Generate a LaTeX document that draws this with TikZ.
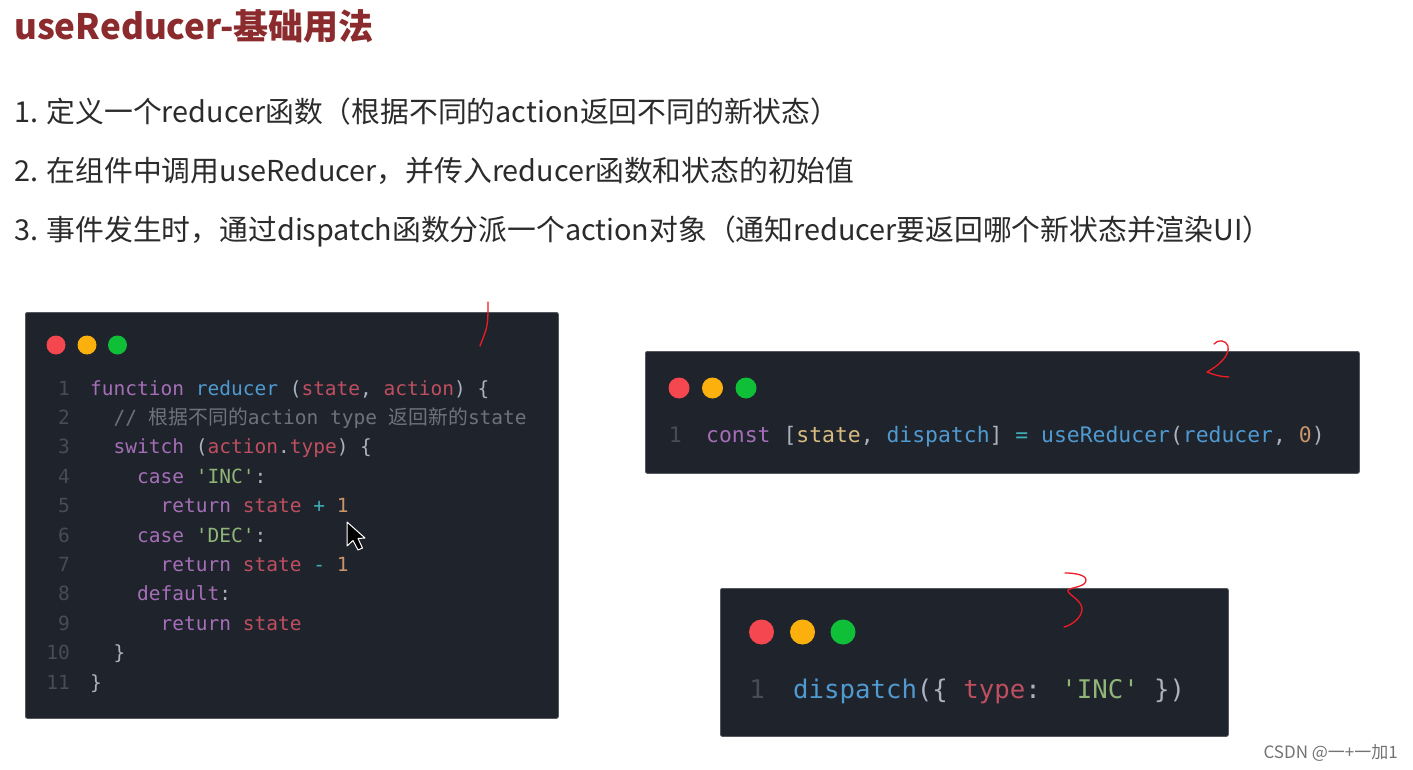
\documentclass[tikz,border=0pt]{standalone}
\usepackage{fontspec}
\setmainfont{Noto Sans CJK SC}
\newfontfamily\cjk{Noto Sans CJK SC}
\newfontfamily\codefont{DejaVu Sans Mono}
\usetikzlibrary{positioning}
\definecolor{panelbg}{HTML}{1F232B}
\definecolor{panelrim}{HTML}{55585E}
\definecolor{titlered}{HTML}{8C2B2E}
\definecolor{listtext}{HTML}{2B2B2B}
\definecolor{inkred}{HTML}{EE1C25}
\definecolor{lampred}{HTML}{F5474F}
\definecolor{lampamber}{HTML}{FBB00E}
\definecolor{lampgreen}{HTML}{0FBF38}
\definecolor{ckey}{HTML}{A56FB8}
\definecolor{cfun}{HTML}{4F9AD0}
\definecolor{cvar}{HTML}{BE4F60}
\definecolor{cstr}{HTML}{8FB578}
\definecolor{cnum}{HTML}{C8946A}
\definecolor{copr}{HTML}{3FAEB8}
\definecolor{cyel}{HTML}{D8BC80}
\definecolor{cplain}{HTML}{ABB2BF}
\definecolor{cnote}{HTML}{6E727A}
\definecolor{cline}{HTML}{484C54}
\newcommand{\kw}[1]{\textcolor{ckey}{#1}}
\newcommand{\fn}[1]{\textcolor{cfun}{#1}}
\newcommand{\vr}[1]{\textcolor{cvar}{#1}}
\newcommand{\sg}[1]{\textcolor{cstr}{#1}}
\newcommand{\nm}[1]{\textcolor{cnum}{#1}}
\newcommand{\op}[1]{\textcolor{copr}{#1}}
\newcommand{\yl}[1]{\textcolor{cyel}{#1}}
\tikzstyle{codepanel} = [draw=panelrim, fill=panelbg, rectangle, rounded corners=2pt, anchor=north west, inner sep=0pt, line width=0.8pt]
\tikzstyle{lamp} = [circle, inner sep=0pt]
\tikzstyle{heading} = [anchor=base west, inner sep=0pt, text=titlered, font=\fontsize{35}{35}\selectfont\bfseries]
\tikzstyle{listline} = [anchor=base west, inner sep=0pt, text=listtext, font=\fontsize{28.8}{28.8}\selectfont]
\tikzstyle{codeA} = [anchor=base west, inner sep=0pt, text=cplain, font=\codefont\fontsize{19.5}{19.5}\selectfont]
\tikzstyle{codeB} = [anchor=base west, inner sep=0pt, text=cplain, font=\codefont\fontsize{21.4}{21.4}\selectfont]
\tikzstyle{codeC} = [anchor=base west, inner sep=0pt, text=cplain, font=\codefont\fontsize{25.7}{25.7}\selectfont]
\tikzstyle{numA} = [anchor=base east, inner sep=0pt, text=cline, font=\codefont\fontsize{19.5}{19.5}\selectfont]
\tikzstyle{handink} = [draw=inkred, line width=1.3pt, line cap=round, line join=round]
\begin{document}
\begin{tikzpicture}[x=1pt, y=-1pt]
	\useasboundingbox (0,0) rectangle (1413,770);
	\fill [white] (0,0) rectangle (1413,770);
	% title and steps
	\node [heading] (title) at (14,40) {useReducer-基础用法};
	\node [listline] (stepone) at (14,122.5) {1. 定义一个reducer函数（根据不同的action返回不同的新状态）};
	\node [listline] (steptwo) at (14,181.5) {2. 在组件中调用useReducer，并传入reducer函数和状态的初始值};
	\node [listline] (stepthree) at (14,240.5) {3. 事件发生时，通过dispatch函数分派一个action对象（通知reducer要返回哪个新状态并渲染UI）};
	% first panel
	\node [codepanel, minimum width=533pt, minimum height=406pt] (panelone) at (25,312) {};
	\node [lamp, fill=lampred, minimum size=19pt] (redone) at (56,345) {};
	\node [lamp, fill=lampamber, minimum size=19pt] (amberone) at (87,345) {};
	\node [lamp, fill=lampgreen, minimum size=19pt] (greenone) at (117.5,345) {};
	\node [numA] (nA) at (70,395) {1};
	\node [numA] (nB) at (70,424.4) {2};
	\node [numA] (nC) at (70,453.8) {3};
	\node [numA] (nD) at (70,483.2) {4};
	\node [numA] (nE) at (70,512.6) {5};
	\node [numA] (nF) at (70,542) {6};
	\node [numA] (nG) at (70,571.4) {7};
	\node [numA] (nH) at (70,600.8) {8};
	\node [numA] (nI) at (70,630.2) {9};
	\node [numA] (nJ) at (70,659.6) {10};
	\node [numA] (nK) at (70,689) {11};
	\node [codeA] (lA) at (90,395) {\kw{function} \fn{reducer} (\vr{state}, \vr{action}) \{};
	\node [codeA, text=cnote] (lB) at (113.5,424.4) {// {\cjk\fontsize{19.8}{19.8}\selectfont 根据不同的}action type {\cjk\fontsize{19.8}{19.8}\selectfont 返回新的}state};
	\node [codeA] (lC) at (113.5,453.8) {\kw{switch} (\vr{action}.\vr{type}) \{};
	\node [codeA] (lD) at (137,483.2) {\kw{case} \sg{'INC'}:};
	\node [codeA] (lE) at (160.5,512.6) {\kw{return} \vr{state} \op{+} \nm{1}};
	\node [codeA] (lF) at (137,542) {\kw{case} \sg{'DEC'}:};
	\node [codeA] (lG) at (160.5,571.4) {\kw{return} \vr{state} \op{-} \nm{1}};
	\node [codeA] (lH) at (137,600.8) {\kw{default}:};
	\node [codeA] (lI) at (160.5,630.2) {\kw{return} \vr{state}};
	\node [codeA] (lJ) at (113.5,659.6) {\}};
	\node [codeA] (lK) at (90,689) {\}};
	% mouse pointer over the first panel
	\draw [white, line width=1pt, fill=black, line join=round] (347,522) -- (347,546) -- (353,540.5) -- (358,550) -- (362.5,548) -- (358,538.5) -- (365,538) -- cycle;
	% second panel
	\node [codepanel, minimum width=714pt, minimum height=122pt] (paneltwo) at (645,351) {};
	\node [lamp, fill=lampred, minimum size=21pt] (redtwo) at (679,388) {};
	\node [lamp, fill=lampamber, minimum size=21pt] (ambertwo) at (712.5,388) {};
	\node [lamp, fill=lampgreen, minimum size=21pt] (greentwo) at (746,388) {};
	\node [anchor=base east, inner sep=0pt, text=cline, font=\codefont\fontsize{21.4}{21.4}\selectfont] (nL) at (682,442) {1};
	\node [codeB] (lL) at (706,442) {\kw{const} [\yl{state}, \fn{dispatch}] \op{=} \fn{useReducer}(\fn{reducer}, \nm{0})};
	% third panel
	\node [codepanel, minimum width=508pt, minimum height=148pt] (panelthree) at (720,588) {};
	\node [lamp, fill=lampred, minimum size=25pt] (redthree) at (761.5,632) {};
	\node [lamp, fill=lampamber, minimum size=25pt] (amberthree) at (802.5,632) {};
	\node [lamp, fill=lampgreen, minimum size=25pt] (greenthree) at (843,632) {};
	\node [anchor=base east, inner sep=0pt, text=cline, font=\codefont\fontsize{25.7}{25.7}\selectfont] (nM) at (765,698) {1};
	\node [codeC] (lM) at (793,698) {\fn{dispatch}(\{ \vr{type}: \sg{'INC'} \})};
	% red pen marks
	\draw [handink] (488,302) .. controls (488,312) and (488,320) .. (487,325) .. controls (486,332) and (482,340) .. (480,346);
	\draw [handink] (1214,344) .. controls (1218,339) and (1226,340) .. (1228,346) .. controls (1230,356) and (1218,366) .. (1207,372) .. controls (1214,375) and (1222,377) .. (1229,377);
	\draw [handink] (1065,573) .. controls (1075,573) and (1086,575) .. (1086,580) .. controls (1086,587) and (1072,587) .. (1068,590) .. controls (1066,594) and (1083,600) .. (1082,610) .. controls (1081,618) and (1072,625) .. (1064,627);
	% watermark
	\node [anchor=base east, inner sep=0pt, text=black!55, font=\fontsize{17}{17}\selectfont] (mark) at (1398,758.5) {CSDN @一+一加1};
\end{tikzpicture}
\end{document}
